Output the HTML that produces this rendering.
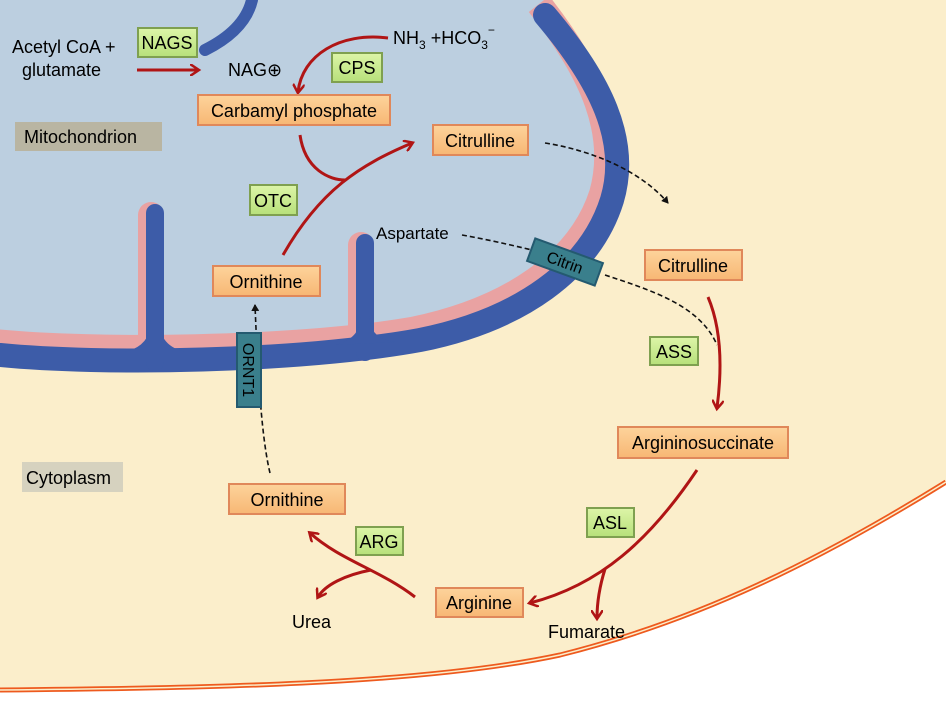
<!DOCTYPE html>
<html><head><meta charset="utf-8"><style>
body{margin:0;background:#fff}
svg{display:block;font-family:"Liberation Sans",Arial,sans-serif}
</style></head><body>
<svg width="946" height="706" viewBox="0 0 946 706" xmlns="http://www.w3.org/2000/svg">
<defs>
<marker id="ra" markerWidth="12" markerHeight="12" refX="8" refY="6" orient="auto" markerUnits="userSpaceOnUse">
<path d="M0,0 L9,6 L0,12" fill="none" stroke="#b01515" stroke-width="2.5"/></marker>
<marker id="ka" markerWidth="8" markerHeight="8" refX="6" refY="4" orient="auto" markerUnits="userSpaceOnUse">
<path d="M0,0 L7,4 L0,8 Z" fill="#111"/></marker>
<linearGradient id="og" x1="0" y1="0" x2="0" y2="1"><stop offset="0" stop-color="#fdd39b"/><stop offset="1" stop-color="#f7b774"/></linearGradient>
<linearGradient id="gg" x1="0" y1="0" x2="0" y2="1"><stop offset="0" stop-color="#ddf5a8"/><stop offset="1" stop-color="#b7e07a"/></linearGradient>
</defs>
<path d="M0,0 L946,0 L946,482 C820,560 700,620 560,655 C420,685 200,688 0,690 Z" fill="#fbeecb"/>
<path d="M946,482 C820,560 700,620 560,655 C420,685 200,688 0,690" fill="none" stroke="#ee5a1e" stroke-width="5"/>
<path d="M946,482 C820,560 700,620 560,655 C420,685 200,688 0,690" fill="none" stroke="#fbeecb" stroke-width="1.5"/>
<path d="M0,0 L545,0 C600,80 630,140 612,200 C590,270 520,320 420,340 C300,362 100,365 0,355 Z" fill="#bccfe0"/>
<path d="M545,10 C600,80 625,140 608,200 C586,268 516,316 418,336 C300,356 100,358 0,348" fill="none" stroke="#e9a2a2" stroke-width="26" transform="translate(-6,-6)"/>
<path d="M155,358 L155,215 M365,348 L365,245" stroke="#e9a2a2" stroke-width="26" stroke-linecap="round" transform="translate(-4,0)"/>
<path d="M545,15 C600,80 630,140 612,200 C590,270 520,320 420,340 C300,362 100,365 0,355" fill="none" stroke="#3d5ca8" stroke-width="24" stroke-linecap="round"/>
<path d="M155,362 L155,213 M365,352 L365,243" stroke="#3d5ca8" stroke-width="18" stroke-linecap="round"/>
<path d="M125,352 Q152,345 150,320 L160,320 Q158,345 185,352 Z M335,345 Q362,338 360,315 L370,315 Q368,338 395,342 Z" fill="#3d5ca8"/>
<path d="M205,50 Q245,30 252,0" fill="none" stroke="#3d5ca8" stroke-width="12" stroke-linecap="round"/>
<rect x="15" y="122" width="147" height="29" fill="#b9b5a2"/>
<text x="24" y="143" font-size="18">Mitochondrion</text>
<rect x="22" y="462" width="101" height="30" fill="#d6d2bf"/>
<text x="26" y="484" font-size="18">Cytoplasm</text>
<text x="12" y="53" font-size="18">Acetyl CoA +</text>
<text x="22" y="76" font-size="18">glutamate</text>
<text x="228" y="76" font-size="18">NAG⊕</text>
<text x="393" y="44" font-size="18">NH<tspan font-size="12" dy="5">3</tspan><tspan dy="-5"> +HCO</tspan><tspan font-size="12" dy="5">3</tspan><tspan font-size="12" dy="-15">−</tspan></text>
<text x="376" y="239" font-size="17">Aspartate</text>
<text x="292" y="628" font-size="18">Urea</text>
<text x="548" y="638" font-size="18">Fumarate</text>
<g fill="none" stroke="#b01515" stroke-width="3">
<path d="M137,70 L198,70" marker-end="url(#ra)"/>
<path d="M388,38 C340,32 302,55 298,92" marker-end="url(#ra)"/>
<path d="M300,135 C305,170 330,180 345,180"/>
<path d="M283,255 C320,190 360,165 412,143" marker-end="url(#ra)"/>
<path d="M708,297 C722,330 722,370 717,408" marker-end="url(#ra)"/>
<path d="M697,470 C650,540 600,585 530,603" marker-end="url(#ra)"/>
<path d="M605,569 C600,585 597,600 597,618" marker-end="url(#ra)"/>
<path d="M415,597 C380,570 340,560 310,533" marker-end="url(#ra)"/>
<path d="M371,570 C345,575 325,585 318,597" marker-end="url(#ra)"/>
</g>
<g fill="none" stroke="#111" stroke-width="1.6" stroke-dasharray="5,3">
<path d="M545,143 C590,150 640,170 668,203" marker-end="url(#ka)"/>
<path d="M462,235 C490,240 520,247 540,252"/>
<path d="M605,275 C650,290 700,305 717,345"/>
<path d="M270,473 C262,440 258,380 255,305" marker-end="url(#ka)"/>
</g>
<g transform="translate(565,262) rotate(20)"><rect x="-36" y="-12" width="72" height="24" fill="#3a7f8c" stroke="#245a70" stroke-width="2"/><text x="0" y="6" font-size="16" text-anchor="middle">Citrin</text></g>
<g transform="translate(249,370) rotate(90)"><rect x="-37" y="-12" width="74" height="24" fill="#3a7f8c" stroke="#245a70" stroke-width="2"/><text x="0" y="6" font-size="16" text-anchor="middle">ORNT1</text></g>
<g stroke="#e0885a" stroke-width="2" fill="url(#og)">
<rect x="198" y="95" width="192" height="30"/>
<rect x="433" y="125" width="95" height="30"/>
<rect x="213" y="266" width="107" height="30"/>
<rect x="645" y="250" width="97" height="30"/>
<rect x="618" y="427" width="170" height="31"/>
<rect x="436" y="588" width="87" height="29"/>
<rect x="229" y="484" width="116" height="30"/>
</g>
<g font-size="18" text-anchor="middle">
<text x="294" y="117">Carbamyl phosphate</text>
<text x="480" y="147">Citrulline</text>
<text x="266" y="288">Ornithine</text>
<text x="693" y="272">Citrulline</text>
<text x="703" y="449">Argininosuccinate</text>
<text x="479" y="609">Arginine</text>
<text x="287" y="506">Ornithine</text>
</g>
<g stroke="#7fa050" stroke-width="2" fill="url(#gg)">
<rect x="138" y="28" width="59" height="29"/>
<rect x="332" y="53" width="50" height="29"/>
<rect x="250" y="185" width="47" height="30"/>
<rect x="650" y="337" width="48" height="28"/>
<rect x="587" y="508" width="47" height="29"/>
<rect x="356" y="527" width="47" height="28"/>
</g>
<g font-size="18" text-anchor="middle">
<text x="167" y="49">NAGS</text>
<text x="357" y="74">CPS</text>
<text x="273" y="207">OTC</text>
<text x="674" y="358">ASS</text>
<text x="610" y="529">ASL</text>
<text x="379" y="548">ARG</text>
</g>
</svg>
</body></html>
